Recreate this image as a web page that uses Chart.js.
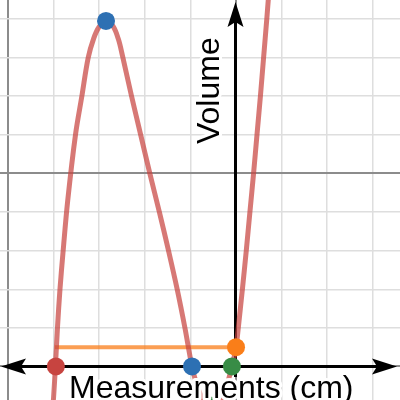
<!DOCTYPE html>
<html>
<head>
<meta charset="utf-8">
<script src="https://cdn.jsdelivr.net/npm/chart.js@4.4.0/dist/chart.umd.min.js"></script>
<style>
  html, body { margin: 0; padding: 0; background: #fff; }
  canvas { display: block; }
</style>
</head>
<body>
<canvas id="graph" width="400" height="400"></canvas>
<script>
// curve (grid units)
const curveX = [-4.05, -4.0, -3.96, -3.915, -3.86, -3.79, -3.69, -3.52, -3.38, -3.24, -3.12, -3.0, -2.85,
  -2.7, -2.58, -2.49, -2.29, -2.09, -1.89, -1.68, -1.48, -1.29, -1.12, -0.965, -0.85, -0.72, -0.53, -0.36,
  -0.22, -0.09, 0.0, 0.05, 0.14, 0.225, 0.305, 0.385, 0.46, 0.535, 0.605, 0.675, 0.76];
const curveY = [-1.6, -0.8, 0, 1.0, 2.0, 3.0, 4.3, 6.0, 7.0, 8.0, 8.5, 8.8, 8.95,
  8.82, 8.48, 8.05, 7.0, 6.0, 5.0, 4.0, 3.0, 2.0, 1.0, 0, -0.5, -0.85, -1.02, -0.9,
  -0.55, 0, 0.5, 1.0, 2.0, 3.0, 4.0, 5.0, 6.0, 7.0, 8.0, 9.0, 10.3];

const redX = [-3.95], redY = [0];
const blueX = [-2.85, -0.965], blueY = [8.95, 0];
const greenX = [-0.09, -0.53], greenY = [0, -1.02];
const orangeX = [0], orangeY = [0.5];
const segX = [-3.97, 0], segY = [0.5, 0.5];

const xGrid = [-5, -4, -3, -2, -1, 0, 1, 2, 3];
const yGrid = [0, 1, 2, 3, 4, 5, 6, 7, 8, 9];

const xLabel = "Measurements (cm)";
const yLabel = "Volume";

const pts = (xs, ys) => xs.map((x, i) => ({ x: x, y: ys[i] }));

const minor = "rgb(222,222,222)";
const major = "rgb(140,140,140)";

function arrow(ctx, tx, ty, dx, dy) {
  // tip at (tx,ty), pointing along (dx,dy)
  const len = 25, half = 8, notch = 5;
  const px = -dy, py = dx;
  ctx.beginPath();
  ctx.moveTo(tx, ty);
  ctx.lineTo(tx - dx * len + px * half, ty - dy * len + py * half);
  ctx.lineTo(tx - dx * (len - notch), ty - dy * (len - notch));
  ctx.lineTo(tx - dx * len - px * half, ty - dy * len - py * half);
  ctx.closePath();
  ctx.fill();
}

const axesPlugin = {
  id: "axes",
  beforeDatasetsDraw(chart) {
    const ctx = chart.ctx;
    const x0 = Math.round(chart.scales.x.getPixelForValue(0)) - 0.5;
    const y0 = Math.round(chart.scales.y.getPixelForValue(0)) + 0.5;
    ctx.save();
    ctx.strokeStyle = "#000";
    ctx.fillStyle = "#000";
    ctx.lineWidth = 3;
    ctx.beginPath();
    ctx.moveTo(15, y0); ctx.lineTo(385, y0);
    ctx.moveTo(x0, 377); ctx.lineTo(x0, 15);
    ctx.stroke();
    arrow(ctx, 1, y0, -1, 0);
    arrow(ctx, 397, y0, 1, 0);
    arrow(ctx, x0, 2, 0, -1);
    ctx.restore();
  },
  afterDatasetsDraw(chart) {
    const ctx = chart.ctx;
    ctx.save();
    ctx.font = '32px "Liberation Sans", Arial, sans-serif';
    ctx.lineJoin = "round";
    ctx.lineWidth = 6;
    ctx.strokeStyle = "#fff";
    ctx.fillStyle = "#000";
    ctx.strokeText(xLabel, 69, 398);
    ctx.fillText(xLabel, 69, 398);
    ctx.translate(219, 144);
    ctx.rotate(-Math.PI / 2);
    ctx.strokeText(yLabel, 0, 0);
    ctx.fillText(yLabel, 0, 0);
    ctx.restore();
  }
};

const dot = (data, color) => ({
  type: "scatter",
  data: data,
  pointRadius: 9,
  pointHoverRadius: 9,
  pointBackgroundColor: color,
  pointBorderWidth: 0,
  order: 1
});

new Chart(document.getElementById("graph"), {
  type: "line",
  data: {
    datasets: [
      dot(pts(redX, redY), "#c74440"),
      dot(pts(blueX, blueY), "#2d70b3"),
      dot(pts(greenX, greenY), "#388c46"),
      dot(pts(orangeX, orangeY), "#fa7e19"),
      {
        data: pts(curveX, curveY),
        borderColor: "rgba(199,68,64,0.72)",
        borderWidth: 5,
        pointRadius: 0,
        tension: 0.35,
        order: 3
      },
      {
        data: pts(segX, segY),
        borderColor: "rgba(250,126,25,0.75)",
        borderWidth: 4,
        pointRadius: 0,
        order: 4
      }
    ]
  },
  options: {
    responsive: false,
    devicePixelRatio: 1,
    animation: false,
    layout: { padding: 0, autoPadding: false },
    plugins: { legend: { display: false }, tooltip: { enabled: false } },
    scales: {
      x: {
        type: "linear",
        min: -5.175,
        max: 3.596,
        afterBuildTicks: s => { s.ticks = xGrid.map(v => ({ value: v })); },
        ticks: { display: false },
        border: { display: false },
        grid: {
          drawTicks: false,
          lineWidth: c => (c.tick && (c.tick.value === -5 || c.tick.value === 0)) ? 2 : 1.5,
          color: c => (c.tick && (c.tick.value === -5 || c.tick.value === 0)) ? major : minor
        }
      },
      y: {
        type: "linear",
        min: -0.868,
        max: 9.492,
        afterBuildTicks: s => { s.ticks = yGrid.map(v => ({ value: v })); },
        ticks: { display: false },
        border: { display: false },
        grid: {
          drawTicks: false,
          lineWidth: c => (c.tick && (c.tick.value === 5 || c.tick.value === 0)) ? 2 : 1.5,
          color: c => (c.tick && (c.tick.value === 5 || c.tick.value === 0)) ? major : minor
        }
      }
    }
  },
  plugins: [axesPlugin]
});
</script>
</body>
</html>
